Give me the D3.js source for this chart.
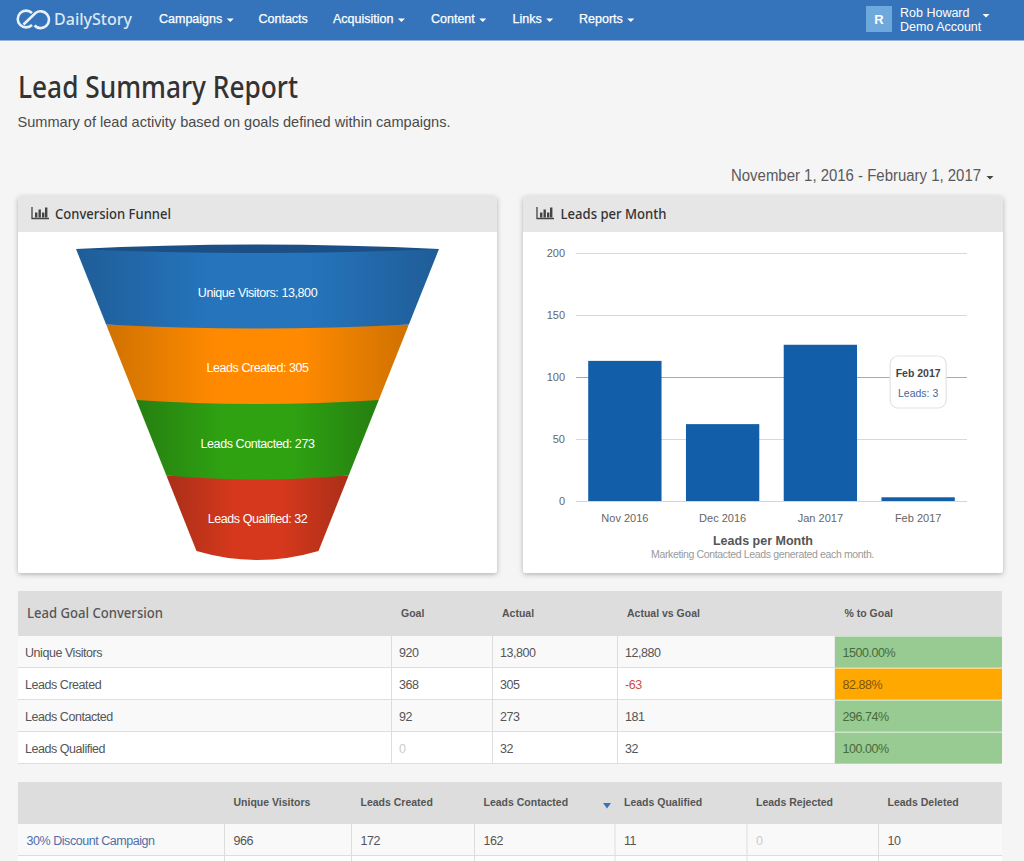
<!DOCTYPE html>
<html>
<head>
<meta charset="utf-8">
<title>Lead Summary Report</title>
<script src="https://cdn.jsdelivr.net/npm/d3@7"></script>
<style>
  html, body { margin: 0; padding: 0; background: #f5f5f5; overflow: hidden; }
  svg { display: block; }
  text { font-family: "Liberation Sans", Arial, sans-serif; }
  .fira { font-family: "Noto Sans", sans-serif; font-weight: 500; }
</style>
</head>
<body>
<svg id="page" width="1024" height="861"></svg>
<script>
// funnel
var funnelStages = ["Unique Visitors", "Leads Created", "Leads Contacted", "Leads Qualified"];
var funnelValues = ["13,800", "305", "273", "32"];
var funnelColors = [["#1f5d97", "#2574bc"], ["#cf7200", "#ff8a00"], ["#257f10", "#2fa212"], ["#a92f18", "#d5381c"]];

// leads per month
var months = ["Nov 2016", "Dec 2016", "Jan 2017", "Feb 2017"];
var leads = [113, 62, 126, 3];
var leadTicks = [0, 50, 100, 150, 200];

// goal table
var goalHeaders = ["Goal", "Actual", "Actual vs Goal", "% to Goal"];
var goalValues = ["920", "368", "92", "0"];
var actualValues = ["13,800", "305", "273", "32"];
var diffValues = ["12,880", "-63", "181", "32"];
var pctValues = ["1500.00%", "82.88%", "296.74%", "100.00%"];

// campaign table
var campaignHeaders = ["Unique Visitors", "Leads Created", "Leads Contacted", "Leads Qualified", "Leads Rejected", "Leads Deleted"];
var campaignNames = ["30% Discount Campaign", ""];
var campaignRows = [["966", "172", "162", "11", "0", "10"], ["", "", "", "", "", ""]];

var navItems = [["Campaigns", 159, true], ["Contacts", 258.5, false], ["Acquisition", 333, true], ["Content", 431, true], ["Links", 512.5, true], ["Reports", 579, true]];

var svg = d3.select("#page");
var defs = svg.append("defs");

var shadow = defs.append("filter").attr("id", "cardShadow")
  .attr("x", "-5%").attr("y", "-5%").attr("width", "110%").attr("height", "110%");
shadow.append("feDropShadow").attr("dx", 0).attr("dy", 1.5).attr("stdDeviation", 2.5)
  .attr("flood-color", "#000").attr("flood-opacity", 0.28);

function label(parent, str, x, y, size, color, opts) {
  opts = opts || {};
  var t = parent.append("text").attr("x", x).attr("y", y).attr("font-size", size)
    .attr("fill", color).text(str);
  if (opts.weight) t.attr("font-weight", opts.weight);
  if (opts.anchor) t.attr("text-anchor", opts.anchor);
  if (opts.cls) t.attr("class", opts.cls);
  if (opts.spacing) t.attr("letter-spacing", opts.spacing);
  if (opts.len) t.attr("textLength", opts.len).attr("lengthAdjust", "spacingAndGlyphs");
  return t;
}

function caret(parent, x, y, color) {
  parent.append("path").attr("d", "M" + (x - 3.5) + "," + y + "h7l-3.5,3.5z").attr("fill", color);
}

// navbar
svg.append("rect").attr("width", 1024).attr("height", 40.5).attr("fill", "#3574bb");
var logo = svg.append("g").attr("fill", "none").attr("stroke", "#e8f0f8").attr("stroke-width", 2.6);
logo.append("path").attr("d", "M32,13A8.4,8.4 0 1 0 32,25");
logo.append("path").attr("d", "M23.5,24.5L35.5,13A8.4,8.4 0 1 1 34.5,25.5");
label(svg, "DailyStory", 54, 25, 16, "#dbe7f3", { cls: "fira", len: 78 });
navItems.forEach(function(d) {
  var t = label(svg, d[0], d[1], 23, 12.5, "#fff").attr("stroke", "#fff").attr("stroke-width", 0.25);
  if (d[2]) caret(svg, t.node().getComputedTextLength() + d[1] + 8, 18.5, "#fff");
});
svg.append("rect").attr("x", 866).attr("y", 6).attr("width", 26).attr("height", 26).attr("fill", "#6fa8dc");
label(svg, "R", 879, 24, 13, "#fff", { anchor: "middle", weight: "bold" });
label(svg, "Rob Howard", 900, 17, 12.5, "#fff");
label(svg, "Demo Account", 900, 31, 12.5, "#fff");
caret(svg, 986, 14, "#fff");

// page heading
label(svg, "Lead Summary Report", 18, 98, 30, "#333", { cls: "fira", len: 280 });
label(svg, "Summary of lead activity based on goals defined within campaigns.", 17.5, 127, 15, "#4a4a4a", { len: 433 });
label(svg, "November 1, 2016 - February 1, 2017", 731, 181, 16, "#5a5a5a", { len: 250 });
caret(svg, 990, 176, "#444");

// cards
function card(x, w) {
  var g = svg.append("g");
  g.append("rect").attr("x", x).attr("y", 196).attr("width", w).attr("height", 377)
    .attr("rx", 3).attr("fill", "#fff").attr("filter", "url(#cardShadow)");
  g.append("path").attr("fill", "#e6e6e6")
    .attr("d", "M" + x + ",232V199a3,3 0 0 1 3,-3H" + (x + w - 3) + "a3,3 0 0 1 3,3V232z");
  var ix = x + 14;
  g.append("path").attr("fill", "none").attr("stroke", "#444").attr("stroke-width", 1.3)
    .attr("d", "M" + ix + ",207V218.5H" + (ix + 17));
  [[3, 5], [6.5, 8], [10, 5], [13, 10]].forEach(function(b) {
    g.append("rect").attr("x", ix + b[0]).attr("y", 217.5 - b[1]).attr("width", 2.4).attr("height", b[1]).attr("fill", "#444");
  });
  return g;
}
card(18, 479);
card(523, 480);
label(svg, "Conversion Funnel", 55, 219, 14.5, "#333", { cls: "fira", len: 116 });
label(svg, "Leads per Month", 560.5, 219, 14.5, "#333", { cls: "fira", len: 106 });

// funnel chart
var funnelY = d3.scaleBand().domain(funnelStages).range([249, 551]);
var funnelHalf = d3.scaleLinear().domain([249, 551]).range([181.5, 61]);
var funnelCx = 257.5;

funnelStages.forEach(function(s, i) {
  var grad = defs.append("linearGradient").attr("id", "funnelGrad" + i);
  grad.append("stop").attr("offset", 0).attr("stop-color", funnelColors[i][0]);
  grad.append("stop").attr("offset", 0.36).attr("stop-color", funnelColors[i][1]);
  grad.append("stop").attr("offset", 0.64).attr("stop-color", funnelColors[i][1]);
  grad.append("stop").attr("offset", 1).attr("stop-color", funnelColors[i][0]);
});

var funnel = svg.append("g");
funnel.selectAll("path.stage")
  .data(funnelStages.slice().reverse())
  .enter()
  .append("path")
  .attr("class", "stage")
  .attr("fill", function(d) { return "url(#funnelGrad" + funnelStages.indexOf(d) + ")"; })
  .attr("d", function(d) {
    var y0 = funnelY(d), y1 = y0 + funnelY.bandwidth();
    var h0 = funnelHalf(y0), h1 = funnelHalf(y1);
    var bulge = d === funnelStages[funnelStages.length - 1] ? 18 : 8;
    return "M" + (funnelCx - h0) + "," + y0 + "L" + (funnelCx + h0) + "," + y0 +
      "L" + (funnelCx + h1) + "," + y1 +
      "Q" + funnelCx + "," + (y1 + bulge) + " " + (funnelCx - h1) + "," + y1 + "Z";
  });

var topHalf = funnelHalf(249);
funnel.append("path").attr("fill", "#1b4f85")
  .attr("d", "M" + (funnelCx - topHalf) + ",249Q" + funnelCx + ",240 " + (funnelCx + topHalf) + ",249" +
    "Q" + funnelCx + ",257 " + (funnelCx - topHalf) + ",249Z");

funnel.selectAll("text")
  .data(funnelStages)
  .enter()
  .append("text")
  .attr("x", funnelCx)
  .attr("y", function(d) { return funnelY(d) + funnelY.bandwidth() / 2 + 10; })
  .attr("text-anchor", "middle")
  .attr("font-size", 12.5)
  .attr("letter-spacing", -0.42)
  .attr("fill", "#fff")
  .text(function(d, i) { return d + ": " + funnelValues[i]; });

// bar chart
var x = d3.scaleBand().domain(months).range([576, 967]).paddingInner(0.25).paddingOuter(0.125);
var y = d3.scaleLinear().domain([0, 200]).range([501, 253]);

var yAxis = svg.append("g").attr("transform", "translate(576,0)")
  .call(d3.axisLeft(y).tickValues(leadTicks).tickSize(-391).tickPadding(11));
yAxis.select(".domain").remove();
yAxis.selectAll("line")
  .attr("stroke", function(d) { return d === 100 ? "#aaa" : d === 0 ? "#ccd6eb" : "#d8d8d8"; });
yAxis.selectAll("text").attr("font-size", 11).attr("font-family", "Liberation Sans").attr("fill", "#666");

svg.selectAll("rect.bar")
  .data(leads)
  .enter()
  .append("rect")
  .attr("class", "bar")
  .attr("x", function(d, i) { return x(months[i]); })
  .attr("y", function(d) { return y(d); })
  .attr("width", x.bandwidth())
  .attr("height", function(d) { return y(0) - y(d); })
  .attr("fill", "#135ea8");

var xAxis = svg.append("g").attr("transform", "translate(0,501)")
  .call(d3.axisBottom(x).tickSize(0).tickPadding(13));
xAxis.select(".domain").remove();
xAxis.selectAll("text").attr("font-size", 11).attr("font-family", "Liberation Sans").attr("fill", "#666");

label(svg, "Leads per Month", 763, 545, 12.5, "#555", { anchor: "middle", weight: "bold" });
label(svg, "Marketing Contacted Leads generated each month.", 762.5, 558, 10.5, "#999", { anchor: "middle", spacing: -0.35 });

// tooltip for the last bar
var tipX = x(months[3]) + x.bandwidth() / 2;
var tip = svg.append("g");
tip.append("rect").attr("x", tipX - 28).attr("y", 356).attr("width", 56).attr("height", 52).attr("rx", 8)
  .attr("fill", "#fff").attr("stroke", "#e3e3e3").attr("stroke-width", 1.2);
label(tip, months[3], tipX, 377, 10.5, "#444", { anchor: "middle", weight: "bold" });
label(tip, "Leads: " + leads[3], tipX, 397, 10.5, "#44689f", { anchor: "middle" });

// tables
function tableGrid(edges, top, headBottom, rowCount, rowH, clipBottom) {
  var g = svg.append("g");
  g.append("rect").attr("x", 18).attr("y", top).attr("width", 984).attr("height", headBottom - top).attr("fill", "#ddd");
  d3.range(rowCount).forEach(function(i) {
    var ry = headBottom + i * rowH;
    g.append("rect").attr("x", 18).attr("y", ry).attr("width", 984).attr("height", rowH)
      .attr("fill", i % 2 ? "#fff" : "#f9f9f9");
    g.append("line").attr("x1", 18).attr("x2", 1002).attr("y1", ry + rowH - 0.5).attr("y2", ry + rowH - 0.5)
      .attr("stroke", "#ddd");
  });
  edges.forEach(function(e) {
    g.append("line").attr("x1", e).attr("x2", e).attr("y1", headBottom)
      .attr("y2", clipBottom).attr("stroke", "#ddd");
  });
  return g;
}

function cellColor(v) {
  if (v === "0") return "#ccc";
  if (v.charAt(0) === "-") return "#c9504a";
  return "#555";
}

var cellSpacing = -0.45;

// goal table
var goalEdges = [391.5, 492.5, 617.5, 835];
var goalTop = 636, goalRowH = 32;
var goalG = tableGrid(goalEdges, 591, goalTop, goalValues.length, goalRowH, 764);
label(goalG, "Lead Goal Conversion", 27, 618, 15, "#555", { cls: "fira", len: 136 });
goalHeaders.forEach(function(h, i) {
  label(goalG, h, goalEdges[i] + 9.5, 617, 10.5, "#555", { weight: "bold" });
});
funnelStages.forEach(function(s, i) {
  var by = goalTop + i * goalRowH + 20.5;
  label(goalG, s, 25, by, 12.5, "#555", { spacing: cellSpacing });
  var short = pctValues[i] === "82.88%";
  goalG.append("rect").attr("x", goalEdges[3]).attr("y", goalTop + i * goalRowH + 0.5)
    .attr("width", 1002 - goalEdges[3]).attr("height", goalRowH - 1)
    .attr("fill", short ? "#ffa800" : "#97cb92");
  [goalValues, actualValues, diffValues].forEach(function(col, c) {
    label(goalG, col[i], goalEdges[c] + 7.5, by, 12.5, cellColor(col[i]), { spacing: cellSpacing });
  });
  label(goalG, pctValues[i], goalEdges[3] + 7.5, by, 12.5, short ? "#7a5510" : "#47693f", { spacing: cellSpacing });
});

// campaign table
var campaignEdges = [224.5, 351.5, 474.5, 615, 747, 878.5];
var campaignTop = 824, campaignRowH = 32;
var campaignG = tableGrid(campaignEdges, 782, campaignTop, campaignNames.length, campaignRowH, 861);
campaignHeaders.forEach(function(h, i) {
  label(campaignG, h, campaignEdges[i] + 9, 806, 10.5, "#555", { weight: "bold" });
});
campaignG.append("path").attr("d", "M603,803h8l-4,5.5z").attr("fill", "#3574bb");
campaignNames.forEach(function(name, r) {
  var by = campaignTop + r * campaignRowH + 20.5;
  label(campaignG, name, 26.5, by, 12.5, "#4f6fa8", { spacing: cellSpacing });
  campaignRows[r].forEach(function(v, c) {
    label(campaignG, v, campaignEdges[c] + 9, by, 12.5, cellColor(v), { spacing: cellSpacing });
  });
});
</script>
</body>
</html>
